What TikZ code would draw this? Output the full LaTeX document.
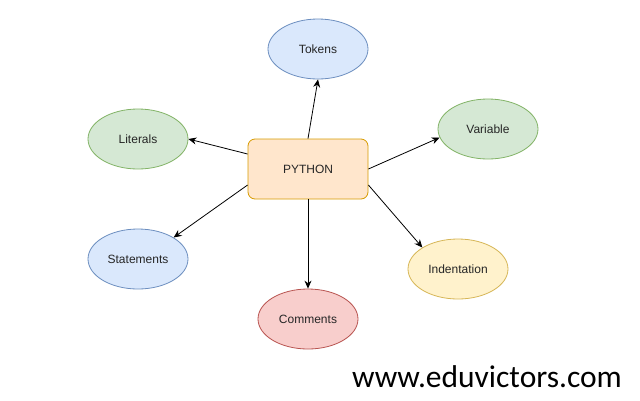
\documentclass[tikz,border=0pt]{standalone}
\usepackage{fontspec}
\setmainfont{Liberation Sans}
\newfontfamily\markfont{Carlito}
\usetikzlibrary{shapes,arrows.meta,positioning}

\definecolor{bluefill}{HTML}{DAE8FC}
\definecolor{blueline}{HTML}{6C8EBF}
\definecolor{greenfill}{HTML}{D5E8D4}
\definecolor{greenline}{HTML}{82B366}
\definecolor{orangefill}{HTML}{FFE6CC}
\definecolor{orangeline}{HTML}{D79B00}
\definecolor{yellowfill}{HTML}{FFF2CC}
\definecolor{yellowline}{HTML}{D6B656}
\definecolor{redfill}{HTML}{F8CECC}
\definecolor{redline}{HTML}{B85450}

\tikzset{
  topic/.style={ellipse, draw, line width=0.8pt, minimum width=100pt, minimum height=60pt, inner sep=0pt, font=\fontsize{12}{14}\selectfont, text=black!85},
  link/.style={-{Stealth[length=8pt,width=7pt]}, line width=0.8pt}
}

\begin{document}
\begin{tikzpicture}[x=1pt,y=-1pt]
\useasboundingbox (0,0) rectangle (640,400);

\node[draw=orangeline, fill=orangefill, line width=0.8pt, rounded corners=7pt, minimum width=120pt, minimum height=60pt, font=\fontsize{12}{14}\selectfont, text=black!85] (python) at (308,169) {PYTHON};

\node[topic, draw=blueline, fill=bluefill] (tokens) at (318,49) {Tokens};
\node[topic, draw=greenline, fill=greenfill] (literals) at (138,139) {Literals};
\node[topic, draw=greenline, fill=greenfill] (variable) at (488,129) {Variable};
\node[topic, draw=blueline, fill=bluefill] (statements) at (138,259) {Statements};
\node[topic, draw=yellowline, fill=yellowfill] (indentation) at (458,269) {Indentation};
\node[topic, draw=redline, fill=redfill] (comments) at (308,319) {Comments};

\draw[link] (python.north) -- (tokens.south);
\draw[link] ([yshift=15pt]python.west) -- (literals.east);
\draw[link] ([yshift=-16pt]python.west) -- (statements.north east);
\draw[link] (python.east) -- (variable.190);
\draw[link] ([yshift=-16pt]python.east) -- (indentation.north west);
\draw[link] (python.south) -- (comments.north);

\node[anchor=base west, inner sep=0pt, font=\markfont\fontsize{31.5}{36}\selectfont] (site) at (352,387) {www.eduvictors.com};

\end{tikzpicture}
\end{document}
